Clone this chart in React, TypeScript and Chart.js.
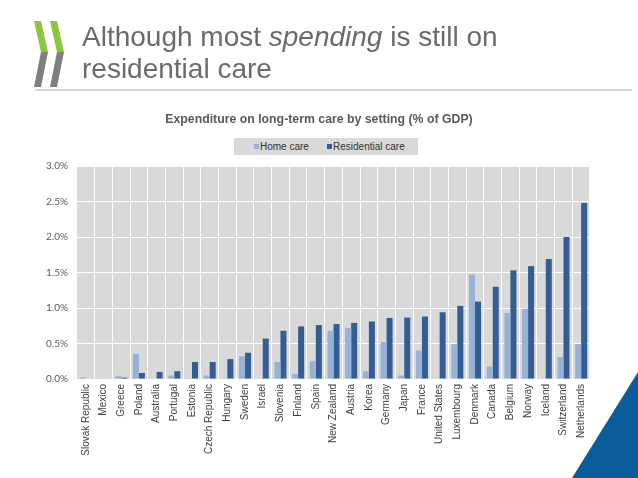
import React, { useEffect, useRef } from "react";
import { Chart, registerables } from "chart.js";

Chart.register(...registerables);

const categories = [
  "Slovak Republic", "Mexico", "Greece", "Poland", "Australia", "Portugal", "Estonia",
  "Czech Republic", "Hungary", "Sweden", "Israel", "Slovenia", "Finland", "Spain",
  "New Zealand", "Austria", "Korea", "Germany", "Japan", "France", "United States",
  "Luxembourg", "Denmark", "Canada", "Belgium", "Norway", "Iceland", "Switzerland", "Netherlands",
];

const homeCare = [
  0.02, 0.01, 0.04, 0.355, 0, 0.05, 0.01, 0.05, 0.01, 0.32, 0, 0.24, 0.07, 0.25,
  0.68, 0.72, 0.11, 0.52, 0.05, 0.4, 0, 0.49, 1.47, 0.175, 0.93, 0.99, 0, 0.31, 0.49,
];

const residentialCare = [
  0, 0, 0.02, 0.085, 0.1, 0.11, 0.24, 0.24, 0.28, 0.37, 0.57, 0.68, 0.74, 0.76,
  0.775, 0.79, 0.81, 0.86, 0.865, 0.88, 0.94, 1.03, 1.09, 1.3, 1.53, 1.59, 1.69, 2.0, 2.48,
];

const yTicks = [0, 0.5, 1.0, 1.5, 2.0, 2.5, 3.0];

const slideTitleA = "Although most ";
const slideTitleEm = "spending";
const slideTitleB = " is still on";
const slideTitle2 = "residential care";
const chartTitle = "Expenditure on long-term care by setting (% of GDP)";
const seriesNames = ["Home care", "Residential care"];

const HOME_COLOR = "#95b3d9";
const RES_COLOR = "#345e92";

const plotBg = {
  id: "plotBg",
  beforeDraw(chart: any) {
    const { ctx, chartArea } = chart;
    ctx.save();
    ctx.fillStyle = "#d9d9d9";
    ctx.fillRect(chartArea.left, chartArea.top, chartArea.right - chartArea.left, chartArea.bottom - chartArea.top);
    ctx.restore();
  },
};

export default function App() {
  const ref = useRef<HTMLCanvasElement | null>(null);

  useEffect(() => {
    if (!ref.current) return;
    const chart = new Chart(ref.current, {
      type: "bar",
      data: {
        labels: categories,
        datasets: [
          {
            label: seriesNames[0],
            data: homeCare,
            backgroundColor: HOME_COLOR,
            borderWidth: 0,
            categoryPercentage: 0.68,
            barPercentage: 1.0,
          },
          {
            label: seriesNames[1],
            data: residentialCare,
            backgroundColor: RES_COLOR,
            borderWidth: 0,
            categoryPercentage: 0.68,
            barPercentage: 1.0,
          },
        ],
      },
      options: {
        responsive: false,
        animation: false,
        devicePixelRatio: 1,
        layout: { padding: { left: 0, right: 48, top: 166, bottom: 0 } },
        plugins: {
          legend: { display: false },
          title: { display: false },
          tooltip: { enabled: false },
        },
        scales: {
          x: {
            grid: { color: "#ffffff", lineWidth: 1, drawTicks: false, offset: true },
            border: { display: false },
            ticks: {
              autoSkip: false,
              minRotation: 90,
              maxRotation: 90,
              padding: 5,
              color: "#404040",
              font: { family: '"Liberation Sans", Arial, sans-serif', size: 10 },
            },
            afterFit(scale: any) {
              scale.height = 99;
            },
          },
          y: {
            min: 0,
            max: 3,
            afterBuildTicks(scale: any) {
              scale.ticks = yTicks.map((v) => ({ value: v }));
            },
            grid: { color: "#ffffff", lineWidth: 1, drawTicks: false },
            border: { display: false },
            ticks: {
              padding: 9,
              color: "#595959",
              font: { family: "Lato, sans-serif", size: 10 },
              callback: (v: any) => Number(v).toFixed(1) + "%",
            },
            afterFit(scale: any) {
              scale.width = 77;
            },
          },
        },
      },
      plugins: [plotBg],
    });
    return () => chart.destroy();
  }, []);

  const sans = '"Liberation Sans", Arial, sans-serif';

  return (
    <div
      style={{
        position: "absolute",
        left: 0,
        top: 0,
        width: 638,
        height: 478,
        background: "#ffffff",
        overflow: "hidden",
        fontFamily: sans,
      }}
    >
      <svg width={638} height={478} style={{ position: "absolute", left: 0, top: 0 }}>
        <polygon points="34,21 41,21 48,52 41,52" fill="#8cc63f" />
        <polygon points="41,52 48,52 41,87 34,87" fill="#7f7f7f" />
        <polygon points="50,21 57,21 64,52 57,52" fill="#8cc63f" />
        <polygon points="57,52 64,52 57,87 50,87" fill="#7f7f7f" />
        <line x1={35} y1={90} x2={632} y2={90} stroke="#c8c8c8" strokeWidth={1.5} />
        <polygon points="638,372 638,478 572,478" fill="#0b5c9a" />
      </svg>
      <canvas ref={ref} width={638} height={478} style={{ position: "absolute", left: 0, top: 0, width: 638, height: 478 }} />
      <div
        style={{
          position: "absolute",
          left: 82,
          top: 21,
          fontSize: 28,
          lineHeight: "32px",
          color: "#6b6b6b",
          whiteSpace: "nowrap",
        }}
      >
        <div>
          {slideTitleA}
          <i>{slideTitleEm}</i>
          {slideTitleB}
        </div>
        <div>{slideTitle2}</div>
      </div>
      <div
        style={{
          position: "absolute",
          left: 0,
          width: 638,
          top: 112,
          textAlign: "center",
          fontSize: 12.3,
          fontWeight: "bold",
          color: "#595959",
          whiteSpace: "nowrap",
        }}
      >
        {chartTitle}
      </div>
      <div
        style={{
          position: "absolute",
          left: 234,
          top: 138,
          width: 184,
          height: 17,
          background: "#d9d9d9",
          fontSize: 10,
          color: "#333333",
        }}
      >
        <span style={{ position: "absolute", left: 20, top: 6, width: 5, height: 5, background: HOME_COLOR }} />
        <span style={{ position: "absolute", left: 26, top: 2, lineHeight: "13px", whiteSpace: "nowrap" }}>{seriesNames[0]}</span>
        <span style={{ position: "absolute", left: 93, top: 6, width: 5, height: 5, background: RES_COLOR }} />
        <span style={{ position: "absolute", left: 99, top: 2, lineHeight: "13px", whiteSpace: "nowrap" }}>{seriesNames[1]}</span>
      </div>
    </div>
  );
}
